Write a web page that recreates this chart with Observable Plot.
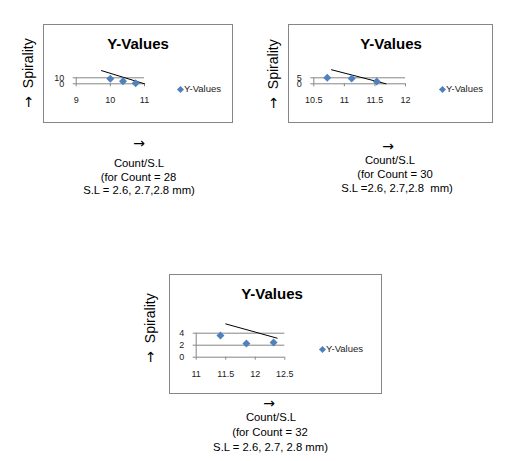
<!DOCTYPE html>
<html><head><meta charset="utf-8">
<script src="https://cdn.jsdelivr.net/npm/d3@7"></script>
<script src="https://cdn.jsdelivr.net/npm/@observablehq/plot@0.6"></script>
<style>
body{margin:0;background:#fff;font-family:"Liberation Sans",Arial,sans-serif;color:#000;}
#root{position:relative;width:508px;height:461px;overflow:hidden;background:#fff;}
.abs{position:absolute;white-space:pre;}
.box{position:absolute;border:1px solid #868686;box-sizing:border-box;}
.title{font-weight:bold;font-size:15px;text-align:center;line-height:18px;}
.leg{font-size:9.5px;color:#222;line-height:12px;}
.dia{position:absolute;width:5px;height:5px;background:#4F81BD;transform:rotate(45deg);}
.ylab{font-size:14px;transform:translate(-50%,-50%) rotate(-90deg);line-height:16px;}
.arr{font-family:"DejaVu Sans",sans-serif;font-size:14px;}
.cap{font-size:11.3px;transform:translateX(-50%);line-height:14px;}
.caparr{font-family:"DejaVu Sans",sans-serif;font-size:14px;transform:translateX(-50%);line-height:14px;}
</style></head><body><div id="root"></div>
<script>
// ---- shared text ----
const chartTitle = "Y-Values";
const legendLabel = "Y-Values";
const yAxisLabel = "Spirality";
const xArrow = "→";

// ---- chart 1 (Count = 28) ----
const c1X = [10.0, 10.37, 10.74];
const c1Y = [8.3, 4.4, 1.1];
const c1TrendX = [9.74, 11.0];
const c1TrendY = [22, 0];
const c1XTicks = [9, 10, 11];
const c1YTicks = [0, 10];
const c1Caption = ["Count/S.L", "(for Count = 28", "S.L = 2.6, 2.7,2.8 mm)"];

// ---- chart 2 (Count = 30) ----
const c2X = [10.72, 11.12, 11.53];
const c2Y = [5.0, 4.4, 1.9];
const c2TrendX = [10.79, 11.68];
const c2TrendY = [11.7, 0];
const c2XTicks = [10.5, 11, 11.5, 12];
const c2YTicks = [0, 5];
const c2Caption = ["Count/S.L", "(for Count = 30", "S.L =2.6, 2.7,2.8  mm)"];

// ---- chart 3 (Count = 32) ----
const c3X = [11.41, 11.85, 12.31];
const c3Y = [3.6, 2.28, 2.45];
const c3TrendX = [11.5, 12.37];
const c3TrendY = [5.55, 3.17];
const c3XTicks = [11, 11.5, 12, 12.5];
const c3YTicks = [0, 2, 4];
const c3Caption = ["Count/S.L", "(for Count = 32", "S.L = 2.6, 2.7, 2.8 mm)"];

// ---- layout (positions only) ----
const layouts = [
  {box:[43,24,190,98], m:[53.3,89,38.7,32.7], title:[138,44], leg:[180,89], ylab:[28,73],
   arrow:[139,143], cap:[[139,163],[138.5,176.5],[139,190]]},
  {box:[288,24,205,98], m:[53.3,88,38.7,25.3], title:[391,44], leg:[442,89], ylab:[273,74],
   arrow:[388,146], cap:[[390,160],[395,174],[397,188]]},
  {box:[169,274,213,119], m:[58.7,97.7,36.3,26.7], title:[272,294], leg:[322,349], ylab:[150,328],
   arrow:[269,403], cap:[[271,417],[270,432],[270.5,447]]}
];
const series = [
  {x:c1X, y:c1Y, tx:c1TrendX, ty:c1TrendY, xt:c1XTicks, yt:c1YTicks, cap:c1Caption},
  {x:c2X, y:c2Y, tx:c2TrendX, ty:c2TrendY, xt:c2XTicks, yt:c2YTicks, cap:c2Caption},
  {x:c3X, y:c3Y, tx:c3TrendX, ty:c3TrendY, xt:c3XTicks, yt:c3YTicks, cap:c3Caption}
];

const root = document.getElementById("root");
function addDiv(cls, text, css) {
  const d = document.createElement("div");
  d.className = "abs " + cls;
  if (text != null) d.textContent = text;
  Object.assign(d.style, css);
  root.appendChild(d);
  return d;
}
const grid = "#868686";

series.forEach((s, i) => {
  const L = layouts[i];
  const [bx, by, bw, bh] = L.box;
  const pts = s.x.map((v, k) => ({x: v, y: s.y[k]}));
  const trend = s.tx.map((v, k) => ({x: v, y: s.ty[k]}));
  const xmin = s.xt[0], xmax = s.xt[s.xt.length - 1];
  const ymax = s.yt[s.yt.length - 1];

  const svg = Plot.plot({
    width: bw, height: bh,
    marginTop: L.m[0], marginRight: L.m[1], marginBottom: L.m[2], marginLeft: L.m[3],
    x: {domain: [xmin, xmax]},
    y: {domain: [0, ymax]},
    style: {background: "transparent", overflow: "visible", fontFamily: "Liberation Sans, Arial, sans-serif"},
    marks: [
      Plot.ruleY(s.yt.filter(v => v > 0), {stroke: grid, strokeWidth: 1}),
      Plot.ruleY([0], {stroke: grid, strokeWidth: 1}),
      Plot.ruleX([xmin], {y1: 0, y2: ymax, stroke: grid, strokeWidth: 1}),
      Plot.axisX(s.xt, {tickSize: 3, tickPadding: 10, fontSize: 9, stroke: grid, fill: "#222", label: null, tickFormat: d => String(d)}),
      Plot.axisY(s.yt, {tickSize: 3, tickPadding: 9, fontSize: 9, stroke: grid, fill: "#222", label: null, tickFormat: d => String(d)}),
      Plot.line(trend, {x: "x", y: "y", stroke: "#000", strokeWidth: 1}),
      Plot.dot(pts, {x: "x", y: "y", symbol: "diamond2", r: 3.6, fill: "#4F81BD", stroke: "none"})
    ]
  });
  svg.style.position = "absolute";
  svg.style.left = bx + "px";
  svg.style.top = by + "px";
  root.appendChild(svg);

  addDiv("box", null, {left: bx + "px", top: by + "px", width: bw + "px", height: (bh + 1) + "px"});
  addDiv("title", chartTitle, {left: (L.title[0] - 60) + "px", top: (L.title[1] - 9) + "px", width: "120px"});
  addDiv("dia", null, {left: (L.leg[0] - 2.5) + "px", top: (L.leg[1] - 2.5) + "px", position: "absolute"});
  addDiv("leg", legendLabel, {left: (L.leg[0] + 4) + "px", top: (L.leg[1] - 6) + "px"});

  const yl = addDiv("ylab", null, {left: L.ylab[0] + "px", top: L.ylab[1] + "px"});
  const a = document.createElement("span");
  a.className = "arr";
  a.textContent = xArrow;
  yl.appendChild(a);
  yl.appendChild(document.createTextNode("  " + yAxisLabel));

  addDiv("caparr", xArrow, {left: L.arrow[0] + "px", top: (L.arrow[1] - 7) + "px"});
  s.cap.forEach((line, k) => {
    addDiv("cap", line, {left: L.cap[k][0] + "px", top: (L.cap[k][1] - 7) + "px"});
  });
});
</script>
</body></html>
